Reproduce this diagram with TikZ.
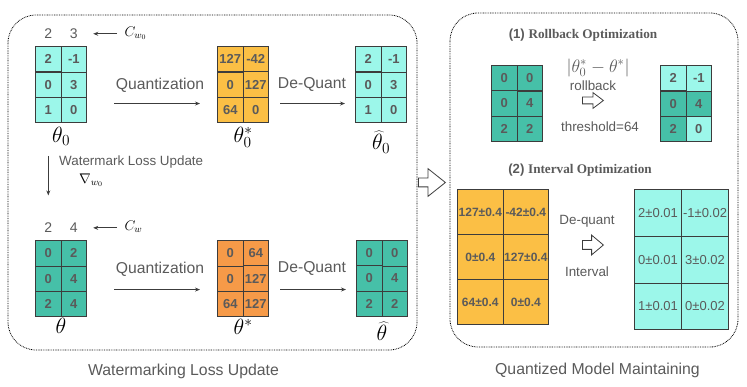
\RequirePackage{fix-cm}
\documentclass[tikz,border=0pt]{standalone}
\usepackage{fontspec}
\setmainfont{Liberation Sans}
\newfontfamily\titleserif{Liberation Serif}
\usetikzlibrary{arrows.meta,positioning,matrix,shapes.arrows}
\definecolor{CellCyan}{HTML}{9CF7EA}
\definecolor{CellTeal}{HTML}{46C0A8}
\definecolor{CellYellow}{HTML}{FBBF45}
\definecolor{CellOrange}{HTML}{F69A48}
\definecolor{TextGray}{HTML}{5A5A5A}
\definecolor{LineGray}{HTML}{3C3C3C}

\begin{document}
\begin{tikzpicture}[x=1pt,y=-1pt,
    panel/.style={draw=black,line width=0.8pt,dash pattern=on 0.8pt off 0.9pt,rounded corners=28pt},
    cell/.style={draw=LineGray,line width=0.7pt,minimum width=25.5pt,minimum height=25.3pt,inner sep=0pt,
      font=\fontsize{13}{13}\selectfont\bfseries,text=TextGray},
    bigcell/.style={minimum width=45.5pt,minimum height=45pt,font=\fontsize{12}{12}\selectfont\bfseries},
    cyancell/.style={fill=CellCyan},
    tealcell/.style={fill=CellTeal},
    yellowcell/.style={fill=CellYellow},
    orangecell/.style={fill=CellOrange},
    wmat/.style={matrix of nodes,nodes={cell},inner sep=0pt,row sep=-0.7pt,column sep=-0.7pt,anchor=north west},
    hdr/.style={font=\fontsize{14}{14}\selectfont,text=TextGray},
    sym/.style={font=\fontsize{14}{14}\selectfont,text=black},
    lbl/.style={font=\fontsize{22}{22}\selectfont,inner sep=0pt},
    txt/.style={font=\fontsize{15.7}{16}\selectfont,text=TextGray,inner sep=0pt},
    small/.style={font=\fontsize{13.4}{14}\selectfont,text=TextGray,inner sep=0pt},
    caption/.style={font=\fontsize{15.8}{16}\selectfont,text=TextGray,inner sep=0pt},
    title/.style={font=\fontsize{13.2}{14}\selectfont\bfseries,text=TextGray,inner sep=0pt},
    arr/.style={-{Stealth[length=5pt,width=4pt]},line width=0.8pt,draw=LineGray},
    hollow/.style={single arrow,draw=LineGray,line width=0.8pt,fill=white,inner xsep=0pt,anchor=tail}
  ]
  \useasboundingbox (0,0) rectangle (747,387);

  % the two panels
  \draw[panel] (8,15) rectangle (417,350);
  \draw[panel] (450,13) rectangle (738,347);
  \node[caption] (capL) at (183.5,371) {Watermarking Loss Update};
  \node[caption] (capR) at (597.5,370) {Quantized Model Maintaining};

  % original weights
  \matrix (theta0) [wmat,nodes={cyancell}] at (35,46) {2 & -1\\ 0 & 3\\ 1 & 0\\};
  \matrix (theta0s) [wmat,nodes={yellowcell}] at (217,46) {127 & -42\\ 0 & 127\\ 64 & 0\\};
  \matrix (hat0) [wmat,nodes={cyancell}] at (355,46) {2 & -1\\ 0 & 3\\ 1 & 0\\};
  \node[lbl,below=4pt of theta0] (ltheta0) {$\theta_0$};
  \node[lbl,below=4pt of theta0s] (ltheta0s) {$\theta_0^*$};
  \node[lbl,below=8pt of hat0] (lhat0) {$\widehat{\theta}_0$};

  \node[hdr,above=4pt of theta0-1-1] (h01) {2};
  \node[hdr,above=4pt of theta0-1-2] (h02) {3};
  \node[sym,anchor=west] (cw0) at (121,33) {$C_{w_0}$};
  \draw[arr,shorten <=4pt,shorten >=12pt] (cw0.west |- h02) -- (h02);

  \node[txt] (q0) at (160,85) {Quantization};
  \node[txt] (dq0) at (312,85) {De-Quant};
  \draw[arr,shorten <=27pt,shorten >=17pt] ([yshift=-19pt]theta0.east) -- ([yshift=-19pt]theta0s.west);
  \draw[arr,shorten <=11pt,shorten >=10pt] ([yshift=-19pt]theta0s.east) -- ([yshift=-19pt]hat0.west);

  % watermark update
  \node[small,anchor=west] (wlu) at (59,162) {Watermark Loss Update};
  \node[sym,anchor=west,inner sep=0pt] (grad) at (79,180) {$\nabla_{w_0}$};

  % updated weights
  \matrix (theta) [wmat,nodes={tealcell}] at (35,240) {0 & 2\\ 0 & 4\\ 2 & 4\\};
  \matrix (thetas) [wmat,nodes={orangecell}] at (217,240) {0 & 64\\ 0 & 127\\ 64 & 127\\};
  \matrix (hat) [wmat,nodes={tealcell}] at (356,240) {0 & 0\\ 0 & 4\\ 2 & 2\\};
  \node[lbl,below=1pt of theta] (ltheta) {$\theta$};
  \node[lbl,below=2pt of thetas] (lthetas) {$\theta^*$};
  \node[lbl,below=5pt of hat] (lhat) {$\widehat{\theta}$};

  \node[hdr,above=4pt of theta-1-1] (h1) {2};
  \node[hdr,above=4pt of theta-1-2] (h2) {4};
  \node[sym,anchor=west] (cw) at (121,227) {$C_{w}$};
  \draw[arr,shorten <=4pt,shorten >=12pt] (cw.west |- h2) -- (h2);

  \draw[arr,shorten <=33pt,shorten >=24pt] (theta0-3-1.south) -- (h1);

  \node[txt] (q1) at (160,269) {Quantization};
  \node[txt] (dq1) at (312,269) {De-Quant};
  \draw[arr,shorten <=27pt,shorten >=17pt] ([yshift=-11pt]theta.east) -- ([yshift=-11pt]thetas.west);
  \draw[arr,shorten <=11pt,shorten >=10pt] ([yshift=-11pt]thetas.east) -- ([yshift=-11pt]hat.west);

  % hand over to the right panel
  \node[hollow,inner ysep=4pt,minimum height=27pt,single arrow head extend=9.5pt,single arrow tip angle=77] (bigarr) at (418,182.5) {};

  % (1) rollback
  \node[title] (t1) at (583,35) {(1) {\titleserif Rollback Optimization}};
  \matrix (rbl) [wmat,nodes={tealcell}] at (491,65) {0 & 0\\ 0 & 4\\ 2 & 2\\};
  \matrix (rbr) [wmat,nodes={tealcell}] at (660,65) {|[cyancell]|2 & |[cyancell]|-1\\ 0 & 4\\ 2 & |[cyancell]|0\\};
  \node[font=\fontsize{18}{18}\selectfont,text=TextGray,inner sep=0pt] (diff) at (598,68) {$|\theta_0^*-\theta^*|$};
  \node[small] (rb) at (593,86) {rollback};
  \node[hollow,inner ysep=3pt,minimum height=21pt,single arrow head extend=4.5pt,single arrow tip angle=74] (rbarr) at (582,100.5) {};
  \node[small] (thr) at (600,127) {threshold=64};

  % (2) interval
  \node[title] (t2) at (580,170) {(2) {\titleserif Interval Optimization}};
  \matrix (ivl) [wmat,nodes={bigcell,yellowcell}] at (457,189) {127±0.4 & -42±0.4\\ 0±0.4 & 127±0.4\\ 64±0.4 & 0±0.4\\};
  \matrix (ivr) [wmat,nodes={bigcell,cyancell,minimum width=47pt,minimum height=46.7pt,font=\fontsize{13}{13}\selectfont}] at (634,189) {2±0.01 & -1±0.02\\ 0±0.01 & 3±0.02\\ 1±0.01 & 0±0.02\\};
  \node[small] (dq) at (587,221) {De-quant};
  \node[hollow,inner ysep=4pt,minimum height=21pt,single arrow head extend=5.5pt,single arrow tip angle=80] (ivarr) at (582,245) {};
  \node[small] (iv) at (587,272) {Interval};
\end{tikzpicture}
\end{document}
